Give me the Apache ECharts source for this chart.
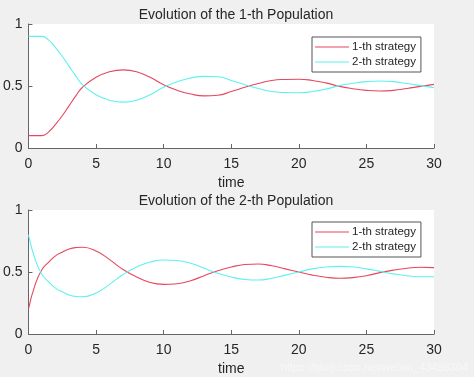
<!DOCTYPE html>
<html>
<head>
<meta charset="utf-8">
<script src="https://cdn.jsdelivr.net/npm/echarts@6/dist/echarts.min.js"></script>
<style>
  html, body { margin: 0; padding: 0; background: #f0f0f0; }
  #chart { width: 474px; height: 377px; }
</style>
</head>
<body>
<div id="chart"></div>
<script>
// time samples (shared by both panels)
const times = [0, 0.5, 1, 1.5, 2, 2.5, 3, 3.5, 4, 5, 6, 7, 8, 9, 10, 11, 12, 13, 14, 15,
  16, 17, 18, 19, 20, 21, 22, 23, 24, 25, 26, 27, 28, 29, 30];

// population 1
const pop1Strategy1 = [0.10, 0.10, 0.10, 0.13, 0.19, 0.26, 0.34, 0.42, 0.49, 0.57, 0.615, 0.63,
  0.615, 0.57, 0.51, 0.465, 0.435, 0.42, 0.425, 0.455, 0.49, 0.52, 0.545, 0.553, 0.555, 0.545,
  0.525, 0.497, 0.478, 0.465, 0.46, 0.465, 0.48, 0.497, 0.513];
const pop1Strategy2 = [0.90, 0.90, 0.90, 0.87, 0.81, 0.74, 0.66, 0.58, 0.51, 0.43, 0.385, 0.37,
  0.385, 0.43, 0.49, 0.535, 0.565, 0.578, 0.575, 0.545, 0.51, 0.48, 0.455, 0.447, 0.445, 0.455,
  0.475, 0.503, 0.522, 0.535, 0.54, 0.535, 0.52, 0.503, 0.487];

// population 2
const pop2Strategy1 = [0.20, 0.40, 0.52, 0.58, 0.63, 0.66, 0.685, 0.697, 0.70, 0.67, 0.60, 0.52,
  0.46, 0.415, 0.40, 0.405, 0.43, 0.47, 0.51, 0.54, 0.56, 0.565, 0.55, 0.525, 0.50, 0.475,
  0.458, 0.45, 0.455, 0.47, 0.495, 0.515, 0.53, 0.538, 0.535];
const pop2Strategy2 = [0.80, 0.60, 0.48, 0.42, 0.37, 0.34, 0.315, 0.303, 0.30, 0.33, 0.40, 0.48,
  0.54, 0.58, 0.597, 0.593, 0.57, 0.53, 0.49, 0.46, 0.44, 0.435, 0.45, 0.475, 0.50, 0.525,
  0.54, 0.545, 0.54, 0.525, 0.505, 0.485, 0.47, 0.462, 0.462];

const titles = ["Evolution of the 1-th Population", "Evolution of the 2-th Population"];
const strategyNames = ["1-th strategy", "2-th strategy"];
const xTicks = { min: 0, max: 30, interval: 5 };
const yTicks = { min: 0, max: 1, interval: 0.5 };

const RED = "#e5475d";
const CYAN = "#5ff0f0";
const FONT = "Liberation Sans";

const pairs = (ys) => times.map((t, i) => [t, ys[i]]);

const gridTops = [24, 210];

const chart = echarts.init(document.getElementById("chart"));

const axisCommon = {
  axisLine: { show: true, lineStyle: { color: "#666", width: 1 } },
  axisTick: { show: true, inside: true, length: 4, lineStyle: { color: "#666" } },
  splitLine: { show: false },
  axisLabel: { color: "#262626", fontSize: 14, fontFamily: FONT },
};

const grids = gridTops.map((top) => ({
  left: 28, right: 40, top: top, height: 124,
  show: true, backgroundColor: "#ffffff", borderWidth: 0,
}));

const xAxes = gridTops.map((_, i) => ({
  ...axisCommon,
  type: "value",
  gridIndex: i,
  min: xTicks.min, max: xTicks.max, interval: xTicks.interval,
  axisLabel: { ...axisCommon.axisLabel, margin: 9 },
  name: "time",
  nameLocation: "middle",
  nameGap: 28,
  nameTextStyle: { color: "#262626", fontSize: 14, fontFamily: FONT },
}));

const yAxes = gridTops.map((_, i) => ({
  ...axisCommon,
  type: "value",
  gridIndex: i,
  min: yTicks.min, max: yTicks.max, interval: yTicks.interval,
  axisLabel: { ...axisCommon.axisLabel, margin: 6 },
}));

const lineSeries = (name, data, color, idx) => ({
  name: name,
  type: "line",
  xAxisIndex: idx,
  yAxisIndex: idx,
  data: data,
  showSymbol: false,
  symbol: "none",
  smooth: 0.5,
  lineStyle: { color: color, width: 1.1 },
  itemStyle: { color: color },
});

chart.setOption({
  backgroundColor: "#f0f0f0",
  animation: false,
  title: titles.map((text, i) => ({
    text: text,
    left: 231,
    textAlign: "center",
    top: [3, 189][i],
    textStyle: { color: "#262626", fontSize: 14, fontWeight: "normal", fontFamily: FONT },
  })),
  legend: gridTops.map((_, i) => ({
    data: strategyNames.map((n) => ({ name: n, icon: "rect" })),
    orient: "vertical",
    left: 312,
    top: [37, 222][i],
    width: 110,
    backgroundColor: "#ffffff",
    borderColor: "#555",
    borderWidth: 1,
    borderRadius: 0,
    padding: [4, 5, 4, 3],
    itemGap: 3,
    itemWidth: 34,
    itemHeight: 1,
    textStyle: { color: "#262626", fontSize: 11.5, fontFamily: FONT, padding: [0, 0, 0, -2] },
    selectedMode: false,
  })),
  grid: grids,
  xAxis: xAxes,
  yAxis: yAxes,
  series: [
    lineSeries(strategyNames[0], pairs(pop1Strategy1), RED, 0),
    lineSeries(strategyNames[1], pairs(pop1Strategy2), CYAN, 0),
    lineSeries(strategyNames[0], pairs(pop2Strategy1), RED, 1),
    lineSeries(strategyNames[1], pairs(pop2Strategy2), CYAN, 1),
  ],
  graphic: [{
    type: "text",
    right: 6,
    top: 362,
    style: {
      text: "https://blog.csdn.net/weixin_43498304",
      fill: "#f7f7f7",
      fontSize: 11,
      fontFamily: FONT,
    },
  }],
});
</script>
</body>
</html>
